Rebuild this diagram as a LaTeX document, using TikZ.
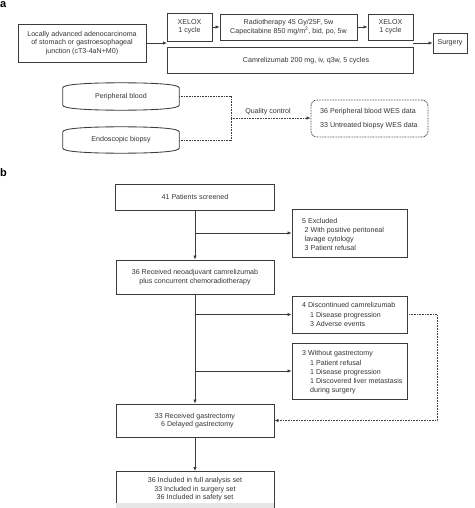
\documentclass[tikz,border=0pt]{standalone}
\usepackage{fontspec}
\setmainfont{Liberation Sans}
\usetikzlibrary{arrows.meta,calc}
\definecolor{lc}{HTML}{3C3C3C}
\definecolor{tc}{HTML}{333333}
\definecolor{band}{HTML}{E6E6E6}
\begin{document}
\begin{tikzpicture}[x=1pt,y=-1pt,
  font=\fontsize{7.1}{8.5}\selectfont,
  box/.style={draw=lc, line width=0.85pt, text=tc, align=center, inner sep=0pt},
  lbl/.style={text=tc, align=left, inner sep=0pt, font=\fontsize{7.1}{9.2}\selectfont},
  arr/.style={-{Latex[length=4pt,width=3.5pt]}, draw=lc, line width=0.85pt},
  dotl/.style={draw=lc, line width=0.85pt, dash pattern=on 0.8pt off 0.8pt},
  panel/.style={text=black, inner sep=0pt, font=\fontsize{11}{11}\selectfont\bfseries, anchor=base west},
  tapebox/.style={draw=lc, line width=0.85pt}
]
\useasboundingbox (0,0) rectangle (474,508);

% ---------- panel a ----------
\node[panel] (la) at (0,8) {a};

\node[box, minimum width=128, minimum height=38] (main) at (82,43)
  {Locally advanced adenocarcinoma\\of stomach or gastroesophageal\\junction (cT3-4aN+M0)};
\node[box, minimum width=45, minimum height=28] (xel1) at (189.5,27) {XELOX\\1 cycle};
\node[box, minimum width=137, minimum height=26] (radio) at (288.5,27)
  {Radiotherapy 45 Gy/25F, 5w\\Capecitabine 850 mg/m\textsuperscript{2}, bid, po, 5w};
\node[box, minimum width=45, minimum height=26] (xel2) at (390.5,27) {XELOX\\1 cycle};
\node[box, minimum width=246, minimum height=26] (cam) at (290,60) {};
\node[lbl] (camtxt) at (306,60.5) {Camrelizumab 200 mg, iv, q3w, 5 cycles};
\node[box, minimum width=34, minimum height=20] (surg) at (450,43) {Surgery};

\coordinate (inpt) at (167,43);
\coordinate (outpt) at (413,43);
\draw[arr] (main.east |- inpt) -- (inpt);
\draw[arr] (xel1.east) -- (radio.west);
\draw[arr] (radio.east) -- (xel2.west);
\draw[arr] (outpt) -- (surg.west);

% tape-like boxes
\node[minimum width=116, minimum height=27, inner sep=0pt, text=tc] (pb) at (121,96.5) {Peripheral blood};
\node[minimum width=116, minimum height=26, inner sep=0pt, text=tc] (eb) at (121,140) {Endoscopic biopsy};
\foreach \n in {pb,eb}{
  \draw[tapebox]
    ($(\n.north west)+(0,5)$)
      .. controls ($(\n.north west)+(0,1.5)$) and ($(\n.north west)+(25,0)$) .. (\n.north)
      .. controls ($(\n.north east)+(-25,0)$) and ($(\n.north east)+(0,1.5)$) .. ($(\n.north east)+(0,5)$)
    -- ($(\n.south east)+(0,-5)$)
      .. controls ($(\n.south east)+(0,-1.5)$) and ($(\n.south east)+(-25,0)$) .. (\n.south)
      .. controls ($(\n.south west)+(25,0)$) and ($(\n.south west)+(0,-1.5)$) .. ($(\n.south west)+(0,-5)$)
    -- cycle;
}

\node[draw=lc, line width=0.85pt, dash pattern=on 0.8pt off 0.8pt, rounded corners=6pt,
      minimum width=117, minimum height=37, inner sep=0pt] (qc) at (369.5,118.5) {};
\node[lbl, anchor=west, font=\fontsize{7.1}{14}\selectfont] (qctxt) at (320,119)
  {36 Peripheral blood WES data\\33 Untreated biopsy WES data};

\coordinate (jn) at (231,118);
\draw[dotl] (pb.east) -| (jn);
\draw[dotl] (eb.east) -| (jn);
\draw[dotl, -{Latex[length=4pt,width=3.5pt]}] (jn) -- (qc.west |- jn);
\node[lbl] (qclab) at (268,111.5) {Quality control};

% ---------- panel b ----------
\node[panel] (lb) at (0,176) {b};

\node[box, minimum width=159, minimum height=26] (scr) at (195,197) {41 Patients screened};
\node[box, minimum width=115, minimum height=48] (excl) at (349.5,233) {};
\node[lbl, anchor=west] (excltxt) at (302,234.5)
  {5 Excluded\\\hspace*{2.5pt}2 With positive peritoneal\\\hspace*{2.5pt}lavage cytology\\\hspace*{2.5pt}3 Patient refusal};
\node[box, minimum width=158, minimum height=34] (recv) at (195,277)
  {36 Received neoadjuvant camrelizumab\\plus concurrent chemoradiotherapy};
\node[box, minimum width=115, minimum height=37] (disc) at (349.5,314.5) {};
\node[lbl, anchor=west] (disctxt) at (302,314.5)
  {4 Discontinued camrelizumab\\\hspace*{8pt}1 Disease progression\\\hspace*{8pt}3 Adverse events};
\node[box, minimum width=115, minimum height=56] (wog) at (349.5,371) {};
\node[lbl, anchor=west] (wogtxt) at (302,372.5)
  {3 Without gastrectomy\\\hspace*{8pt}1 Patient refusal\\\hspace*{8pt}1 Disease progression\\\hspace*{8pt}1 Discovered liver metastasis\\\hspace*{8pt}during surgery};
\node[box, minimum width=158, minimum height=33] (gast) at (195,420.5)
  {33 Received gastrectomy\\\hspace*{5pt}6 Delayed gastrectomy};
\node[box, minimum width=158, minimum height=70, anchor=north] (fin) at (195,471) {};
\fill[band] ($(fin.north west)+(0.45,32)$) rectangle ($(fin.north east)+(-0.45,40)$);
\node[lbl, align=center, font=\fontsize{7.1}{8.5}\selectfont] (fintxt) at (195,489.5)
  {36 Included in full analysis set\\33 Included in surgery set\\36 Included in safety set};

\draw[arr] (scr.south) -- (recv.north);
\draw[arr] (scr.south |- excl.west) -- (excl.west);
\draw[arr] (recv.south) -- (gast.north);
\draw[arr] (recv.south |- disc.west) -- (disc.west);
\draw[arr] (recv.south |- wog.west) -- (wog.west);
\draw[arr] (gast.south) -- (fin.north);
\draw[dotl, -{Latex[length=4pt,width=3.5pt]}] (disc.east) -- ++(30,0) |- (gast.east);
\end{tikzpicture}
\end{document}
